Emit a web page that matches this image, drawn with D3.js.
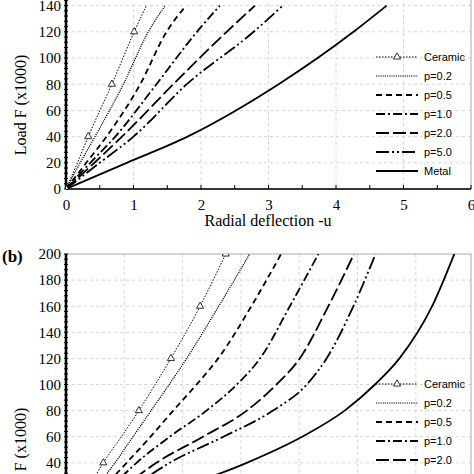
<!DOCTYPE html>
<html lang="en">
<head>
<meta charset="utf-8" />
<script src="https://cdn.jsdelivr.net/npm/d3@7"></script>
<style>
  body { margin: 0; background: #fff; }
  text { font-family: "Liberation Serif", "DejaVu Serif", serif; }
  .leg { font-family: "Liberation Sans", Arial, sans-serif; font-size: 11px; }
</style>
</head>
<body>
<svg id="chart" width="474" height="474"></svg>
<script>
// series names and line styles share an index
var seriesNames = ['Ceramic', 'p=0.2', 'p=0.5', 'p=1.0', 'p=2.0', 'p=5.0', 'Metal']
var loadsA = [0, 20, 40, 80, 120, 140]
// panel (a): radial deflection at each load
var defA = [
  [0, 0.17, 0.33, 0.68, 1.01, 1.19],
  [0, 0.21, 0.43, 0.85, 1.22, 1.47],
  [0, 0.30, 0.60, 1.10, 1.49, 1.78],
  [0, 0.36, 0.73, 1.34, 1.94, 2.28],
  [0, 0.42, 0.83, 1.59, 2.38, 2.80],
  [0, 0.50, 1.00, 1.79, 2.78, 3.21],
  [0, 0.90, 1.80, 3.15, 4.26, 4.75]
]
var loadsB = [20, 40, 60, 80, 100, 120, 160, 200]
var defB = [
  [0.38, 0.64, 0.95, 1.25, 1.53, 1.80, 2.30, 2.74],
  [0.50, 0.84, 1.15, 1.46, 1.77, 2.07, 2.62, 3.15],
  [0.62, 1.04, 1.45, 1.84, 2.24, 2.61, 3.18, 3.69],
  [0.75, 1.21, 1.78, 2.41, 2.93, 3.33, 3.84, 4.33],
  [0.95, 1.55, 2.35, 3.10, 3.61, 4.01, 4.50, 4.94],
  [1.10, 1.78, 2.70, 3.55, 4.13, 4.47, 4.93, 5.31],
  [1.90, 3.10, 4.05, 4.78, 5.30, 5.72, 6.28, 6.66]
]
var markerLoadsA = [0, 40, 80, 120]
var markerLoadsB = [40, 80, 120, 160, 200]
var yTicksA = [0, 20, 40, 60, 80, 100, 120, 140]
var yTicksB = [40, 60, 80, 100, 120, 140, 160, 180, 200]
var xTicksA = [0, 1, 2, 3, 4, 5, 6]

var dashes = ['1.5,1.5', '1.2,1', '6,4', '9,3,2,3', '13,4', '13,3,2,3,2,3', null]
var widths = [1, 1.2, 1.8, 1.8, 1.8, 1.8, 1.8]

var svg = d3.select('#chart')

function drawPanel(o) {
  var x = d3.scaleLinear().domain([0, o.xMax]).range([66, 471])
  var y = d3.scaleLinear().domain([0, 200]).range([o.y0, o.y0 - 200 * o.ky])
  var g = svg.append('g')
  var top = y(o.yTop)
  // grid
  g.selectAll('.gx').data(d3.range(1, o.xMax)).join('line')
    .attr('x1', d => x(d)).attr('x2', d => x(d)).attr('y1', top).attr('y2', o.y0)
    .attr('stroke', '#d4d4d4').attr('stroke-dasharray', '3,3')
  g.selectAll('.gy').data(d3.range(20, o.yTop, 20)).join('line')
    .attr('x1', 66).attr('x2', 471).attr('y1', d => y(d)).attr('y2', d => y(d))
    .attr('stroke', '#d4d4d4').attr('stroke-dasharray', '3,3')
  g.append('rect').attr('x', 66).attr('y', top).attr('width', 405).attr('height', o.y0 - top)
    .attr('fill', 'none').attr('stroke', '#aaa')
  // left axis
  var ya = g.append('g').attr('transform', 'translate(66,0)')
    .call(d3.axisLeft(y).tickValues(o.yTicks).tickSize(0).tickPadding(5))
  ya.select('.domain').remove()
  ya.selectAll('text').attr('font-size', 15).attr('font-family', 'Liberation Serif')
  g.selectAll('.my').data(d3.range(0, o.yTop + 1, 4)).join('line')
    .attr('x1', 64).attr('x2', 68).attr('y1', d => y(d)).attr('y2', d => y(d)).attr('stroke', '#000')
  g.append('line').attr('x1', 66).attr('x2', 66).attr('y1', top).attr('y2', o.y0)
    .attr('stroke', '#000').attr('stroke-width', 2.5)
  if (o.xTicks) {
    g.append('line').attr('x1', 66).attr('x2', 471).attr('y1', o.y0).attr('y2', o.y0)
      .attr('stroke', '#000').attr('stroke-width', 1.5)
    g.selectAll('.tx').data(d3.range(0, 6.01, 0.5)).join('line')
      .attr('x1', d => x(d)).attr('x2', d => x(d)).attr('y1', o.y0).attr('y2', o.y0 - 4).attr('stroke', '#000')
    var xa = g.append('g').attr('transform', 'translate(0,' + o.y0 + ')')
      .call(d3.axisBottom(x).tickValues(o.xTicks).tickFormat(d3.format('d')).tickSize(0).tickPadding(10))
    xa.select('.domain').remove()
    xa.selectAll('text').attr('font-size', 15).attr('font-family', 'Liberation Serif')
    g.append('text').attr('x', 268).attr('y', o.y0 + 37).attr('text-anchor', 'middle')
      .attr('font-size', 16).text('Radial deflection -u')
  }
  g.append('text').attr('transform', 'translate(26,' + o.titleY + ') rotate(-90)')
    .attr('text-anchor', 'middle').attr('font-size', 16).text('Load F (x1000)')
  // curves
  var clip = 'clip' + o.id
  svg.append('clipPath').attr('id', clip).append('rect')
    .attr('x', 66).attr('y', top).attr('width', 405).attr('height', o.y0 - top)
  var line = d3.line().curve(d3.curveMonotoneX).x(d => x(d[0])).y(d => y(d[1]))
  var cg = g.append('g').attr('clip-path', 'url(#' + clip + ')')
  o.defs.forEach(function (row, i) {
    cg.append('path').datum(row.map((u, j) => [u, o.loads[j]]))
      .attr('d', line).attr('fill', 'none').attr('stroke', '#000')
      .attr('stroke-width', widths[i]).attr('stroke-dasharray', dashes[i])
  })
  var interp = d3.scaleLinear().domain(o.loads).range(o.defs[0])
  cg.selectAll('.mk').data(o.markers).join('path')
    .attr('d', d3.symbol(d3.symbolTriangle, 22))
    .attr('transform', d => 'translate(' + x(interp(d)) + ',' + y(d) + ')')
    .attr('fill', '#fff').attr('stroke', '#000').attr('stroke-width', 0.8)
  // legend
  var lg = g.append('g')
  seriesNames.forEach(function (n, i) {
    var ly = o.legY + i * 19
    lg.append('line').attr('x1', 376).attr('x2', 418).attr('y1', ly).attr('y2', ly)
      .attr('stroke', '#000').attr('stroke-width', widths[i]).attr('stroke-dasharray', dashes[i])
    if (i === 0) lg.append('path').attr('d', d3.symbol(d3.symbolTriangle, 22))
      .attr('transform', 'translate(397,' + ly + ')').attr('fill', '#fff').attr('stroke', '#000').attr('stroke-width', 0.8)
    lg.append('text').attr('class', 'leg').attr('x', 424).attr('y', ly + 4).text(n)
  })
}

drawPanel({ id: 'a', xMax: 6, y0: 189, ky: 1.31, yTop: 160, yTicks: yTicksA, xTicks: xTicksA,
  loads: loadsA, defs: defA, markers: markerLoadsA, legY: 57, titleY: 105 })
drawPanel({ id: 'b', xMax: 405 / 58.3, y0: 515, ky: 1.305, yTop: 200, yTicks: yTicksB, xTicks: null,
  loads: loadsB, defs: defB, markers: markerLoadsB, legY: 384, titleY: 458 })
svg.append('text').attr('x', 2).attr('y', 262).attr('font-size', 17).attr('font-weight', 'bold').text('(b)')
</script>
</body>
</html>
